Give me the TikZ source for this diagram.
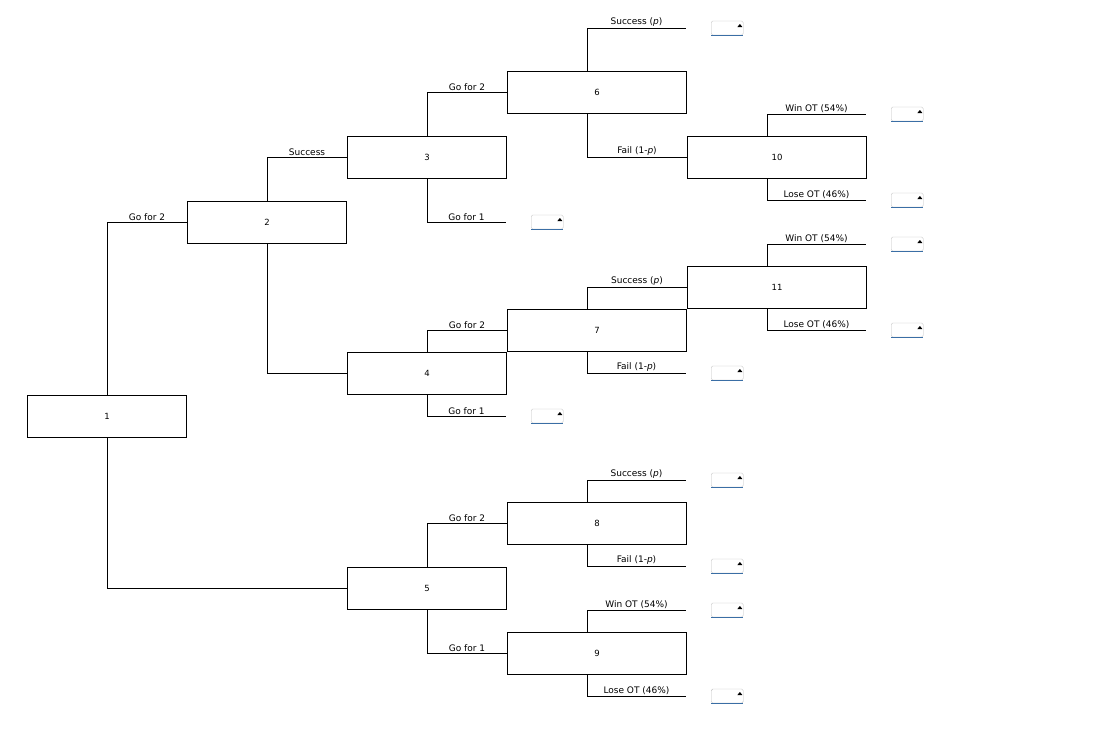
\documentclass[tikz,border=0pt]{standalone}
\usepackage{fontspec}
\setmainfont{DejaVu Sans}
\begin{document}
\begin{tikzpicture}[x=1pt,y=-1pt,
  box/.style={draw,line width=0.9pt,minimum width=159pt,minimum height=42pt,inner sep=0pt,font=\fontsize{8.5}{10}\selectfont},
  wbox/.style={box,minimum width=179pt},
  lbl/.style={font=\fontsize{9}{11}\selectfont,anchor=south,inner sep=1pt},
  conn/.style={line width=0.9pt,line join=miter},
  dd/.style={draw=gray!50,fill=white,rounded corners=1.5pt,minimum width=32pt,minimum height=14pt,inner sep=0pt,anchor=west}]
\useasboundingbox (0,0) rectangle (1098,734);
\newcommand{\ddown}[2]{%
  \node[dd] (#2) at ([xshift=25pt]#1) {};
  \draw[color={rgb,255:red,58;green,110;blue,165},line width=1.3pt] (#2.south west) -- (#2.south east);
  \fill ([xshift=-6pt,yshift=1pt]#2.east) -- ++(5pt,0) -- ++(-2.5pt,3pt) -- cycle;}
\node[box] (n1) at (107,416) {1};
\node[box] (n2) at (267,222.5) {2};
\node[box] (n3) at (427,157) {3};
\node[box] (n4) at (427,373) {4};
\node[box] (n5) at (427,588.5) {5};
\node[wbox] (n6) at (597,92.5) {6};
\node[wbox] (n7) at (597,330) {7};
\node[wbox] (n8) at (597,523) {8};
\node[wbox] (n9) at (597,653) {9};
\node[wbox] (n10) at (777,157) {10};
\node[wbox] (n11) at (777,287) {11};
% end points
\coordinate (e3b) at (506,222);
\coordinate (e4b) at (506,416);
\coordinate (e6a) at (686,28);
\coordinate (e7b) at (686,373);
\coordinate (e8a) at (686,480);
\coordinate (e8b) at (686,566);
\coordinate (e9a) at (686,610);
\coordinate (e9b) at (686,696);
\coordinate (e10a) at (866,114);
\coordinate (e10b) at (866,200);
\coordinate (e11a) at (866,244);
\coordinate (e11b) at (866,330);
% connectors
\draw[conn] (n1.north) |- node[lbl,pos=0.75]{Go for 2} (n2.west);
\draw[conn] (n1.south) |- (n5.west);
\draw[conn] (n2.north) |- node[lbl,pos=0.75]{Success} (n3.west);
\draw[conn] (n2.south) |- (n4.west);
\draw[conn] (n3.north) |- node[lbl,pos=0.75]{Go for 2} (n6.west);
\draw[conn] (n3.south) |- node[lbl,pos=0.75]{Go for 1} (e3b);
\draw[conn] (n4.north) |- node[lbl,pos=0.75]{Go for 2} (n7.west);
\draw[conn] (n4.south) |- node[lbl,pos=0.75]{Go for 1} (e4b);
\draw[conn] (n5.north) |- node[lbl,pos=0.75]{Go for 2} (n8.west);
\draw[conn] (n5.south) |- node[lbl,pos=0.75]{Go for 1} (n9.west);
\draw[conn] ([xshift=-10pt]n6.north) |- node[lbl,pos=0.75]{Success (\textit{p})} (e6a);
\draw[conn] ([xshift=-10pt]n6.south) |- node[lbl,pos=0.75]{Fail (1-\textit{p})} (n10.west);
\draw[conn] ([xshift=-10pt]n7.north) |- node[lbl,pos=0.75]{Success (\textit{p})} (n11.west);
\draw[conn] ([xshift=-10pt]n7.south) |- node[lbl,pos=0.75]{Fail (1-\textit{p})} (e7b);
\draw[conn] ([xshift=-10pt]n8.north) |- node[lbl,pos=0.75]{Success (\textit{p})} (e8a);
\draw[conn] ([xshift=-10pt]n8.south) |- node[lbl,pos=0.75]{Fail (1-\textit{p})} (e8b);
\draw[conn] ([xshift=-10pt]n9.north) |- node[lbl,pos=0.75]{Win OT (54\%)} (e9a);
\draw[conn] ([xshift=-10pt]n9.south) |- node[lbl,pos=0.75]{Lose OT (46\%)} (e9b);
\draw[conn] ([xshift=-10pt]n10.north) |- node[lbl,pos=0.75]{Win OT (54\%)} (e10a);
\draw[conn] ([xshift=-10pt]n10.south) |- node[lbl,pos=0.75]{Lose OT (46\%)} (e10b);
\draw[conn] ([xshift=-10pt]n11.north) |- node[lbl,pos=0.75]{Win OT (54\%)} (e11a);
\draw[conn] ([xshift=-10pt]n11.south) |- node[lbl,pos=0.75]{Lose OT (46\%)} (e11b);
% dropdowns
\ddown{e3b}{d3b}
\ddown{e4b}{d4b}
\ddown{e6a}{d6a}
\ddown{e7b}{d7b}
\ddown{e8a}{d8a}
\ddown{e8b}{d8b}
\ddown{e9a}{d9a}
\ddown{e9b}{d9b}
\ddown{e10a}{d10a}
\ddown{e10b}{d10b}
\ddown{e11a}{d11a}
\ddown{e11b}{d11b}
\end{tikzpicture}
\end{document}
